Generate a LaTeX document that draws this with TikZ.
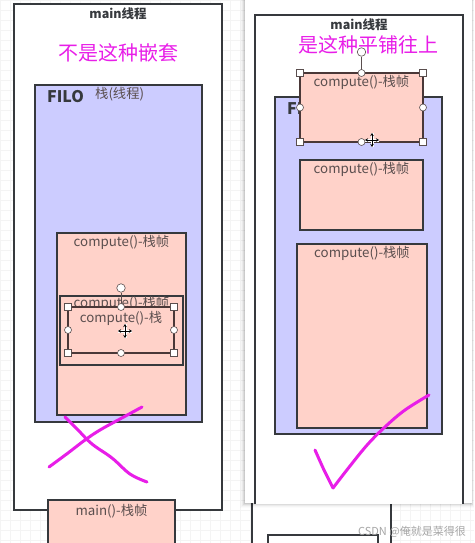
\documentclass[tikz,border=0pt]{standalone}
\usepackage{fontspec}
\setmainfont{Noto Sans CJK SC}
\usetikzlibrary{arrows.meta}

\definecolor{stroke}{HTML}{36393D}
\definecolor{salmon}{HTML}{FFD2C9}
\definecolor{lav}{HTML}{CCCCFF}
\definecolor{mag}{HTML}{E81EE8}
\definecolor{lblc}{HTML}{5A4E4E}
\definecolor{gridc}{HTML}{F4F4F4}
\definecolor{selc}{HTML}{4A3838}

\tikzset{
 box/.style={draw=stroke, line width=1.3pt, inner sep=0pt, outer sep=0pt, anchor=north west},
 mainbox/.style={box, fill=white},
 stackbox/.style={box, fill=lav},
 framebox/.style={box, fill=salmon},
 selbox/.style={box, fill=salmon, draw=selc, line width=1.9pt},
 lbl/.style={text=lblc, font=\fontsize{13.3}{15}\selectfont, inner sep=0pt},
 ttl/.style={text=stroke, font=\bfseries\fontsize{12.5}{14}\selectfont, inner sep=0pt},
 big/.style={text=mag, font=\fontsize{20}{22}\selectfont, inner sep=0pt},
 filo/.style={text=stroke, font=\bfseries\fontsize{16}{18}\selectfont, inner sep=0pt, anchor=west},
 sq/.style={draw=lblc, fill=white, line width=0.6pt, minimum size=7pt, inner sep=0pt},
 ci/.style={circle, draw=lblc, fill=white, line width=0.6pt, minimum size=7pt, inner sep=0pt},
 rotc/.style={ci, minimum size=8.5pt},
 ink/.style={draw=mag, line width=3pt, line cap=round, line join=round},
 mv/.style={stroke, line width=1pt, {Stealth[length=3pt,width=3.5pt]}-{Stealth[length=3pt,width=3.5pt]}},
 mvbg/.style={white, line width=3pt},
}

\begin{document}
\begin{tikzpicture}[x=1pt,y=-1pt]
\useasboundingbox (0,0) rectangle (474,543);
\fill[white] (0,0) rectangle (474,543);
\draw[gridc, step=10pt, line width=0.5pt] (0,0) grid (474,543);

% ===================== LEFT =====================
\node[mainbox, minimum width=208pt, minimum height=506pt] (lmain) at (14,4) {};
\node[ttl] (ltitle) at (118,14) {main线程};
\node[big] (lq) at (118,53) {不是这种嵌套};
\node[stackbox, minimum width=167pt, minimum height=337pt] (lstack) at (35,85) {};
\node[filo] (lfilo) at (47,97) {FILO};
\node[lbl, anchor=west] (lstk) at (95,94) {栈(线程)};
\node[framebox, minimum width=129pt, minimum height=182pt] (lf1) at (57,233) {};
\node[lbl] (lf1t) at (121.5,242) {compute()-栈帧};
\node[framebox, line width=1.9pt, minimum width=123pt, minimum height=69pt] (lf2) at (60,296) {};
\node[lbl] (lf2t) at (121.5,303) {compute()-栈帧};
\node[selbox, minimum width=106pt, minimum height=46pt] (lsel) at (68,307) {};
\node[lbl] (lselt) at (121,318) {compute()-栈};
\node[rotc] (lrot) at (121,288) {};
\draw[lblc, line width=0.8pt] (lrot) -- (lsel.north);
\foreach \a [count=\i] in {north west, north east, south west, south east}
  \node[sq] (lhs\i) at (lsel.\a) {};
\foreach \a [count=\i] in {north, south, west, east}
  \node[ci] (lhc\i) at (lsel.\a) {};
\begin{scope}[shift={(125,331)}]
  \draw[mvbg] (-7,0) -- (7,0) (0,-7) -- (0,7);
  \draw[mv] (-7,0) -- (7,0);
  \draw[mv] (0,-7) -- (0,7);
\end{scope}
\node[framebox, minimum width=127pt, minimum height=55pt] (lmf) at (48,500) {};
\node[lbl] (lmft) at (111.5,511) {main()-栈帧};
% X mark
\draw[ink] plot[smooth, tension=0.6] coordinates {(65,417) (78,430) (92,444) (112,458) (130,474) (147,482)};
\draw[ink] plot[smooth, tension=0.6] coordinates {(142,407) (120,419) (100,430) (85,440) (68,453) (49,467)};

% ===================== RIGHT =====================
\node[mainbox, minimum width=139pt, minimum height=80pt] (rback) at (252,490) {};
\node[box, fill=white, line width=1.6pt, minimum width=110pt, minimum height=30pt] (rbackf) at (268,535) {};
% panel shadow
\foreach \i/\o in {1/0.08,2/0.06,3/0.04,4/0.025,5/0.015}
  \fill[black, opacity=\o] (245-\i,0) rectangle (472+0.4*\i,503+\i);
\node[fill=white, anchor=north west, inner sep=0pt, outer sep=0pt, minimum width=227pt, minimum height=503pt] (panel) at (245,0) {};
\begin{scope}
  \clip (245,0) rectangle (472,503);
  \node[mainbox, minimum width=208pt, minimum height=520pt] (rmain) at (255,15) {};
\end{scope}
\node[ttl] (rtitle) at (359,25) {main线程};
\node[big] (rq) at (368,45) {是这种平铺往上};
\node[stackbox, minimum width=167pt, minimum height=337pt] (rstack) at (275,97) {};
\node[filo] (rfilo) at (287,109) {FILO};
\node[framebox, minimum width=123pt, minimum height=70pt] (rf2) at (300,160) {};
\node[lbl] (rf2t) at (361.5,169) {compute()-栈帧};
\node[framebox, minimum width=130pt, minimum height=184pt] (rf3) at (297,244) {};
\node[lbl] (rf3t) at (362,253) {compute()-栈帧};
\node[selbox, minimum width=123pt, minimum height=69pt] (rsel) at (300,73) {};
\node[lbl] (rselt) at (361.5,82) {compute()-栈帧};
\node[rotc] (rrot) at (361.5,52) {};
\draw[lblc, line width=0.8pt] (rrot) -- (rsel.north);
\foreach \a [count=\i] in {north west, north east, south west, south east}
  \node[sq] (rhs\i) at (rsel.\a) {};
\foreach \a [count=\i] in {north, south, west, east}
  \node[ci] (rhc\i) at (rsel.\a) {};
\begin{scope}[shift={(372,140)}]
  \draw[mvbg] (-7,0) -- (7,0) (0,-7) -- (0,7);
  \draw[mv] (-7,0) -- (7,0);
  \draw[mv] (0,-7) -- (0,7);
\end{scope}
% check mark
\draw[ink] plot[smooth, tension=0.4] coordinates {(315,450) (324,470) (333,488)};
\draw[ink] plot[smooth, tension=0.6] coordinates {(333,488) (350,466) (368,444) (386,426) (405,410) (429,395)};

\node[text=black!35, font=\fontsize{11}{12}\selectfont, anchor=east, inner sep=0pt] (wm) at (466,532) {CSDN @俺就是菜得很};
\end{tikzpicture}
\end{document}
